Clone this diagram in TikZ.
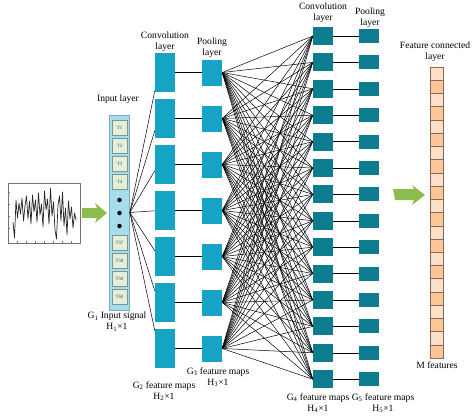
\documentclass[tikz,border=0pt]{standalone}
\usepackage{fontspec}
\setmainfont{Liberation Serif}
\usetikzlibrary{calc}
\definecolor{convA}{RGB}{22,163,196}
\definecolor{convB}{RGB}{12,124,142}
\definecolor{incolfill}{RGB}{166,220,236}
\definecolor{incoldraw}{RGB}{130,170,178}
\definecolor{cellfill}{RGB}{228,238,217}
\definecolor{celldraw}{RGB}{120,150,150}
\definecolor{fLight}{RGB}{253,222,198}
\definecolor{fDark}{RGB}{251,197,154}
\definecolor{fDraw}{RGB}{140,105,85}
\definecolor{arrowgreen}{RGB}{140,188,78}
\begin{document}
\begin{tikzpicture}[x=1pt,y=-1pt,
  lbl/.style={font=\fontsize{9.6}{11}\selectfont, align=center, inner sep=0pt},
  cellt/.style={font=\fontsize{4.8}{5}\selectfont, text=black!70},
  convone/.style={rectangle, fill=convA, minimum width=20pt, minimum height=39pt, inner sep=0pt},
  poolone/.style={rectangle, fill=convA, minimum width=20pt, minimum height=26pt, inner sep=0pt},
  convtwo/.style={rectangle, fill=convB, minimum width=20pt, minimum height=18pt, inner sep=0pt},
  pooltwo/.style={rectangle, fill=convB, minimum width=20pt, minimum height=14pt, inner sep=0pt},
  incell/.style={rectangle, fill=cellfill, draw=celldraw, line width=0.6pt, minimum width=15pt, minimum height=15pt, inner sep=0pt, cellt},
  fcell/.style={rectangle, draw=fDraw, line width=0.5pt, minimum width=13pt, minimum height=13.23pt, inner sep=0pt},
  conn/.style={black, line width=0.5pt},
  bigarrow/.style={fill=arrowgreen}
]
\useasboundingbox (0,0) rectangle (474,416);

% signal box
\node[rectangle, draw=black!55, line width=0.6pt, minimum width=72pt, minimum height=60pt, inner sep=0pt] (sig) at (44,213) {};
\foreach \tx in {17,26,35,44,53,62,71} {\draw[black!55, line width=0.4pt] (\tx,243) -- (\tx,241);}
\foreach \ty in {192,204,216,228} {\draw[black!55, line width=0.4pt] (8,\ty) -- (10,\ty);}
\draw[black!85, line width=0.7pt, line join=round] plot coordinates {
(13,222)(14.5,238)(16,200)(17.5,218)(19,203)(20.5,214)(22,198)(23.5,221)(25,206)(26.5,196)
(28,219)(29.5,201)(31,224)(32.5,195)(34,212)(35.5,200)(37,222)(38.5,193)(40,215)(41.5,204)
(43,227)(44.5,191)(46,210)(47.5,199)(49,224)(50.5,188)(52,216)(53.5,202)(55,230)(56.5,239)
(58,205)(59.5,196)(61,221)(62.5,192)(64,226)(65.5,208)(67,235)(68.5,201)(70,219)(71.5,207)
(73,228)(74.5,213)(76,220)};

% arrow 1
\fill[bigarrow] (82,208) -- (97,208) -- (95,203) -- (107,213) -- (95,223) -- (97,218) -- (82,218) -- cycle;

% input column
\node[rectangle, fill=incolfill, draw=incoldraw, line width=0.7pt, minimum width=20pt, minimum height=195pt, inner sep=0pt] (incol) at (119.5,212.5) {};
\node[incell] (t1) at (119.5,127.5) {T1};
\node[incell] (t2) at (119.5,145.5) {T2};
\node[incell] (t3) at (119.5,163.5) {T3};
\node[incell] (t4) at (119.5,181.5) {T4};
\node[incell] (t57) at (119.5,242.5) {T57};
\node[incell] (t58) at (119.5,260.5) {T58};
\node[incell] (t59) at (119.5,278.5) {T59};
\node[incell] (t60) at (119.5,296.5) {T60};
\foreach \dy/\n in {200/d1,213/d2,226/d3} {\node[circle, fill=black, minimum size=4.5pt, inner sep=0pt] (\n) at (119.5,\dy) {};}

% conv 1 and pool 1
\foreach \k in {1,...,7} {
  \pgfmathsetmacro{\cy}{72.5+46*(\k-1)}
  \node[convone] (c\k) at (165,\cy) {};
  \node[poolone] (p\k) at (212,\cy) {};
  \pgfmathsetmacro{\off}{(212.5-\cy)*0.13}
  \draw[conn] (incol.east) -- ($(c\k.west)+(0,\off)$);
  \draw[conn] (c\k.east) -- (p\k.west);
}

% conv 2 and pool 2
\foreach \k in {1,...,14} {
  \pgfmathsetmacro{\cy}{36+26.4*(\k-1)}
  \node[convtwo] (q\k) at (323,\cy) {};
  \node[pooltwo] (r\k) at (369,\cy) {};
  \draw[conn] (q\k.east) -- (r\k.west);
}
\foreach \i in {1,...,7} {
  \foreach \j in {1,...,14} {
    \draw[conn] (p\i.east) -- (q\j.west);
  }
}

% arrow 2
\fill[bigarrow] (393,189) -- (414,189) -- (412,185) -- (425,195) -- (412,205) -- (414,200) -- (395,200) -- cycle;

% feature layer
\foreach \k in {1,...,22} {
  \pgfmathsetmacro{\fy}{67+13.23*(\k-0.5)}
  \pgfmathtruncatemacro{\parity}{mod(\k,2)}
  \ifnum\parity=1 \def\fc{fLight}\else \def\fc{fDark}\fi
  \node[fcell, fill=\fc] (f\k) at (436.5,\fy) {};
}

% labels
\node[lbl] (linput) at (118,99) {Input layer};
\node[lbl] (lconv1) at (165,42) {Convolution\\layer};
\node[lbl] (lpool1) at (212,48) {Pooling\\layer};
\node[lbl] (lconv2) at (323,13) {Convolution\\layer};
\node[lbl] (lpool2) at (370,18) {Pooling\\layer};
\node[lbl] (lfeat) at (435,52) {Feature connected\\layer};
\node[lbl] (lM) at (437,365) {M features};
\node[lbl] (lg1) at (117,321.5) {G\textsubscript{1} Input signal\\H\textsubscript{1}×1};
\node[lbl] (lg2) at (164,391) {G\textsubscript{2} feature maps\\H\textsubscript{2}×1};
\node[lbl] (lg3) at (218,377) {G\textsubscript{3} feature maps\\H\textsubscript{3}×1};
\node[lbl] (lg4) at (318,403) {G\textsubscript{4} feature maps\\H\textsubscript{4}×1};
\node[lbl] (lg5) at (383,403) {G\textsubscript{5} feature maps\\H\textsubscript{5}×1};
\end{tikzpicture}
\end{document}
